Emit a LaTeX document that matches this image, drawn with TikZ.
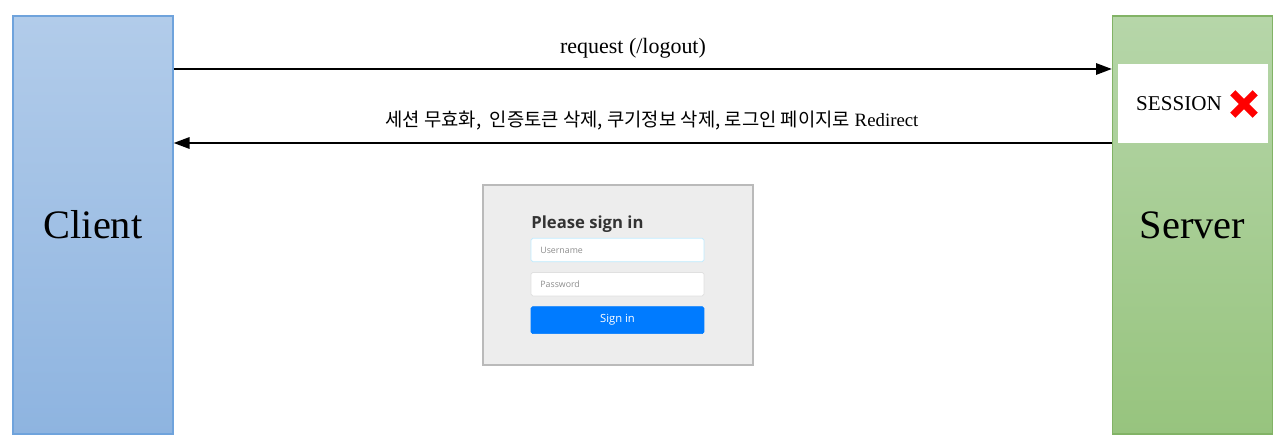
\documentclass[tikz,border=0pt]{standalone}
\usepackage{fontspec}
\setmainfont{Liberation Serif}
\newfontfamily\kr{Noto Sans CJK KR}
\newfontfamily\ui{Open Sans}
\usetikzlibrary{positioning, shapes.misc, arrows.meta}

\definecolor{clienttop}{HTML}{B2CCEA}
\definecolor{clientbot}{HTML}{8EB4E0}
\definecolor{clientline}{HTML}{6FA3DC}
\definecolor{servertop}{HTML}{B6D6A9}
\definecolor{serverbot}{HTML}{97C47E}
\definecolor{serverline}{HTML}{82B366}
\definecolor{btnblue}{HTML}{007BFF}

\begin{document}
\begin{tikzpicture}[x=0.02cm, y=-0.02cm,
    side/.style={
            rectangle,
            minimum width=3.2cm,
            minimum height=8.36cm,
            line width=0.8pt,
            font=\fontsize{23}{26}\selectfont},
    field/.style={
            rectangle,
            draw,
            fill=white,
            rounded corners=1pt,
            minimum width=3.46cm,
            minimum height=0.47cm,
            inner sep=0pt},
    hint/.style={
            font=\ui\fontsize{5}{6}\selectfont,
            text=black!45,
            anchor=west},
    msg/.style={->,>={Triangle[length=9pt,width=6.5pt]},line width=1pt}]

\useasboundingbox (0,0) rectangle (1286,445);

%Client / Server====================================================================
\node[side,top color=clienttop,bottom color=clientbot,draw=clientline] (1) at (93,225) {Client};
\node[side,top color=servertop,bottom color=serverbot,draw=serverline] (2) at (1192.5,225) {Server};

\node[rectangle,fill=white,minimum width=3cm,minimum height=1.58cm,inner sep=0pt] (3) at (1193,103.5) {};
\node[font=\fontsize{12}{14}\selectfont] (4) at (1179,104) {SESSION};
\node[cross out,draw=red,line width=4.2pt,minimum size=0.3cm,inner sep=0pt] (5) at (1244,104) {};
%=======================================================================

%Messages====================================================================
\draw[msg] (1.east |- 0,69) -- (2.west |- 0,69);
\node[font=\fontsize{12.5}{14}\selectfont] (6) at (633,48) {request (/logout)};
\draw[msg] (2.west |- 0,143) -- (1.east |- 0,143);
\node[font=\fontsize{10.7}{12}\selectfont] (7) at (652,121) {{\kr 세션 무효화,\ \ 인증토큰 삭제, 쿠기정보 삭제, 로그인 페이지로} Redirect};
%=======================================================================

%Login page====================================================================
\node[rectangle,fill=black!7,draw=black!27,line width=1pt,minimum width=5.4cm,minimum height=3.6cm] (8) at (618,275) {};
\node[anchor=base west,inner sep=0pt,font=\ui\bfseries\fontsize{9.5}{11}\selectfont,text=black!80] (9) at (531,229) {Please sign in};

\node[field,draw=blue!30!cyan!25] (10) at (617.5,250) {};
\node[hint] (11) at ([xshift=2pt]10.west) {Username};
\node[field,draw=black!12,below=0.2cm of 10] (12) {};
\node[hint] (13) at ([xshift=2pt]12.west) {Password};
\node[field,draw=btnblue,fill=btnblue,minimum height=0.54cm,below=0.2cm of 12] (14) {};
\node[font=\ui\fontsize{6.4}{8}\selectfont,text=white] (15) at (14.center) {Sign in};
%=======================================================================

\end{tikzpicture}
\end{document}
